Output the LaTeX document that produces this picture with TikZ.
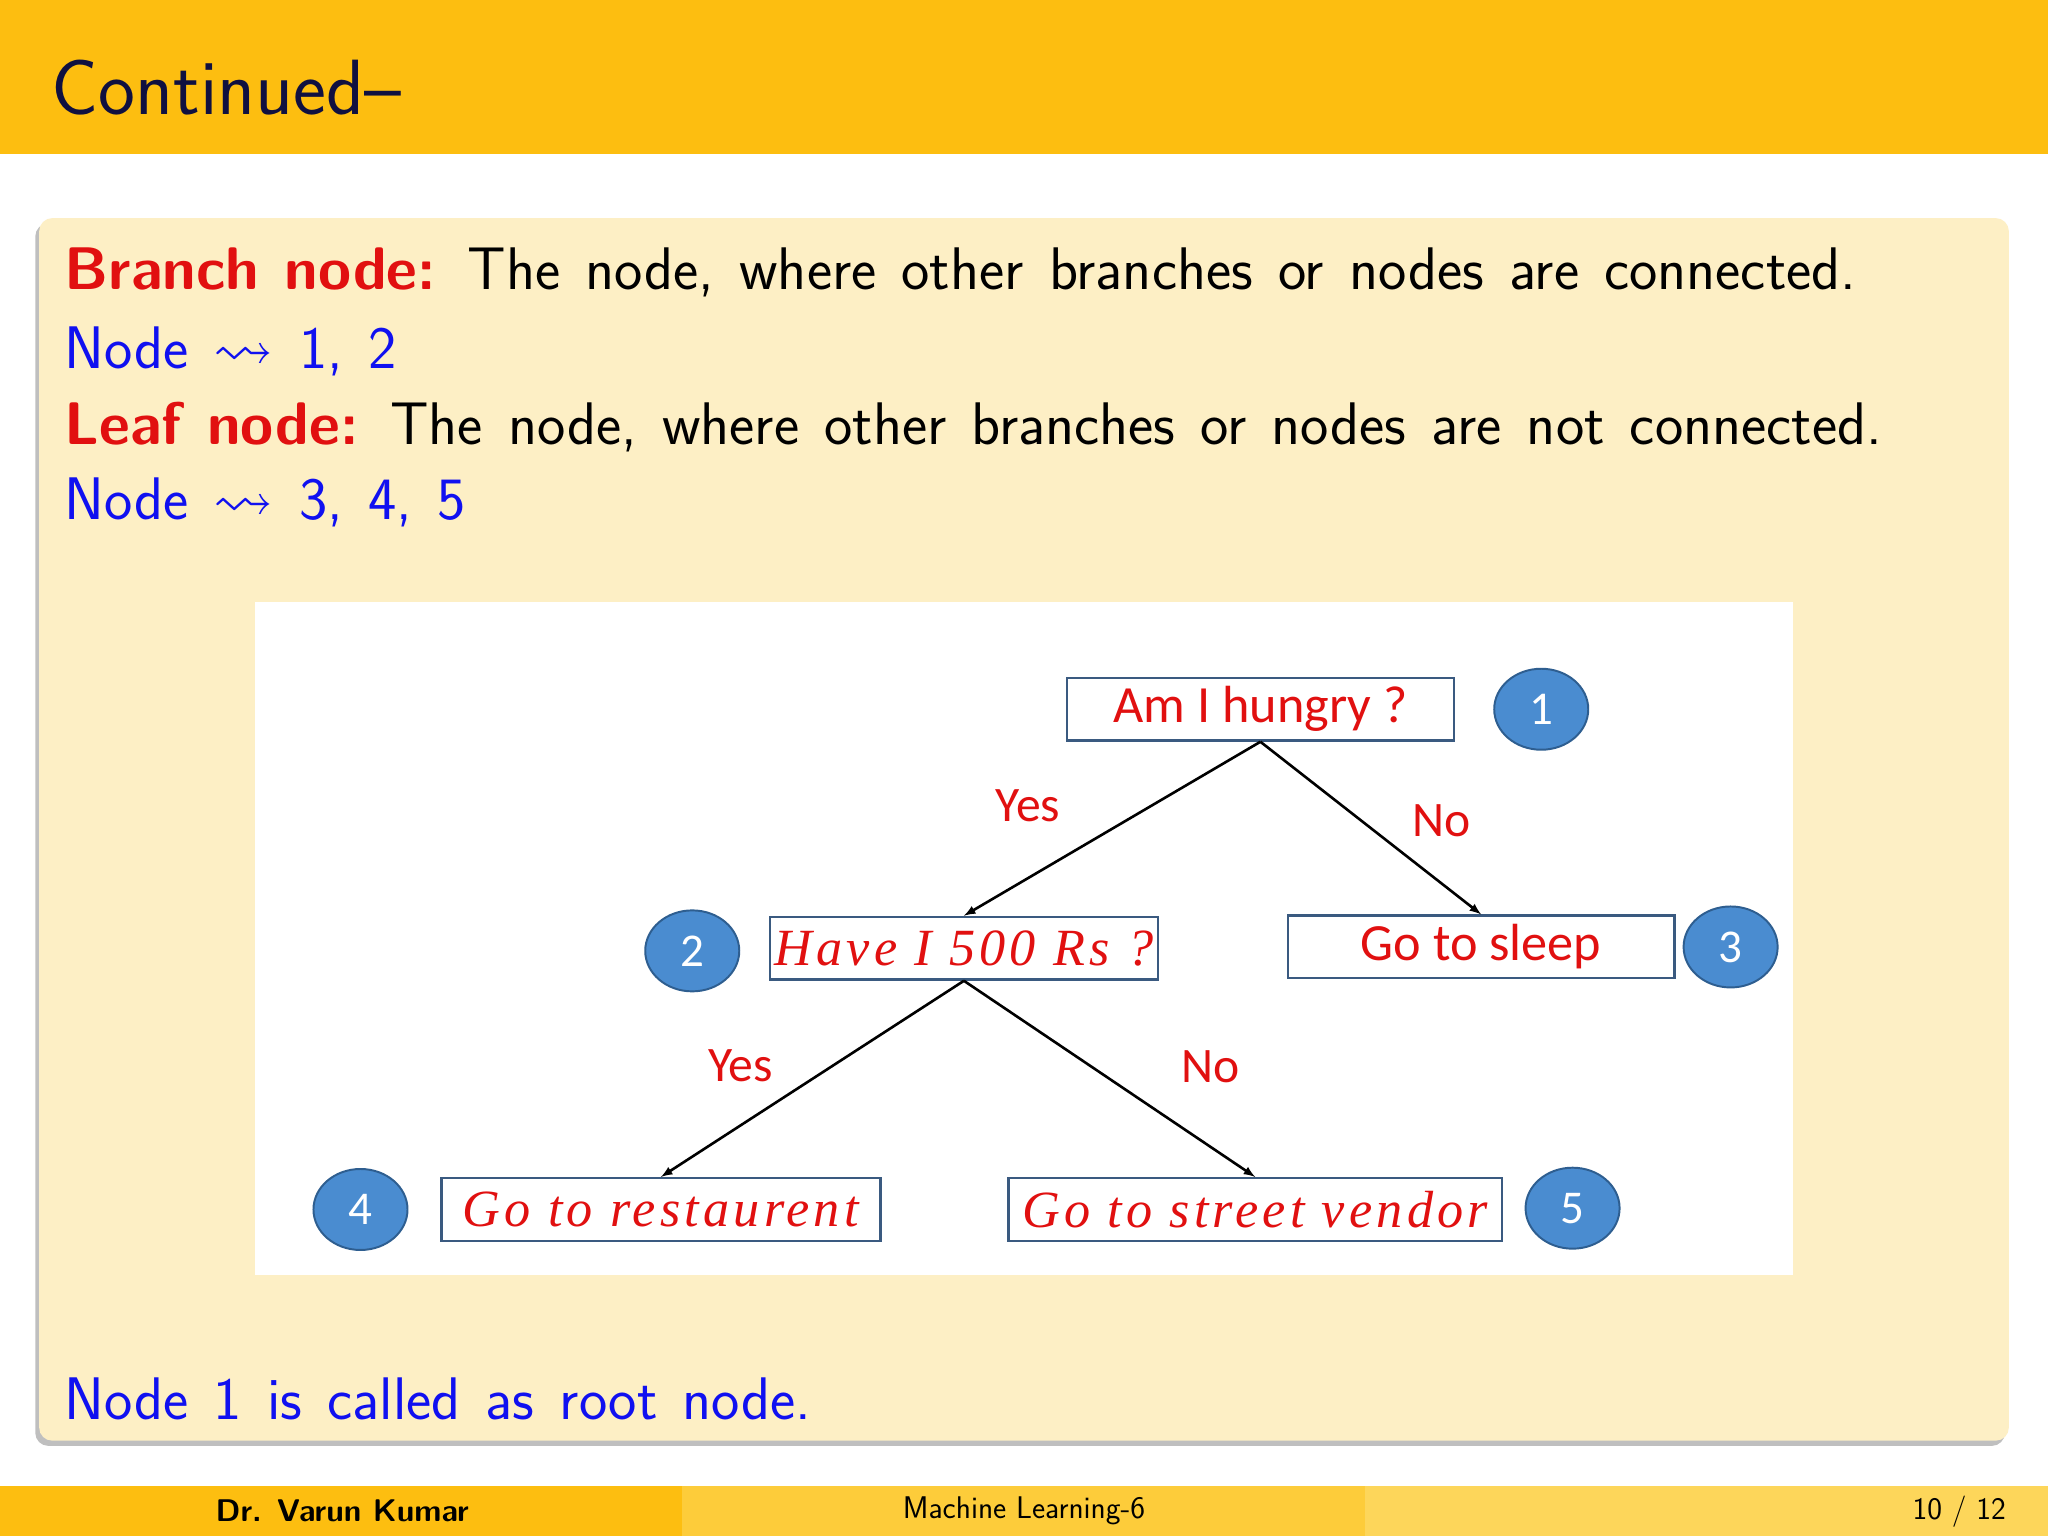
\documentclass[tikz,border=0pt]{standalone}
\usepackage{fontspec}
\newfontfamily\carfont{Carlito}
\newfontfamily\serfont{Liberation Serif}[LetterSpace=8]
\usepackage{amssymb}
\usetikzlibrary{shadows,shapes.geometric}
\newcommand\widesp{\addfontfeatures{LetterSpace=5}\spaceskip=0.42em\relax}
\definecolor{hdr}{HTML}{FDBE10}
\definecolor{blk}{HTML}{FDEFC5}
\definecolor{foot1}{HTML}{FDBE10}
\definecolor{foot2}{HTML}{FDCC3A}
\definecolor{foot3}{HTML}{FDD65A}
\definecolor{bred}{HTML}{E11010}
\definecolor{bblue}{HTML}{1010F0}
\definecolor{circ}{HTML}{4A8CD0}
\definecolor{circb}{HTML}{2E5E90}
\definecolor{boxb}{HTML}{3A5A80}
\definecolor{navy}{HTML}{101040}
\begin{document}
\begin{tikzpicture}[x=1pt,y=-1pt,
  tbox/.style={draw=boxb,line width=1.8pt,fill=white,minimum height=48pt,inner sep=0pt,text=bred,font=\carfont\fontsize{40}{44}\selectfont},
  ibox/.style={tbox,font=\serfont\itshape\fontsize{40}{44}\selectfont},
  num/.style={ellipse,draw=circb,line width=1.5pt,fill=circ,minimum width=72pt,minimum height=62pt,inner sep=0pt,text=white,font=\carfont\fontsize{36}{40}\selectfont},
  lab/.style={text=bred,font=\carfont\fontsize{38}{42}\selectfont},
  arr/.style={-latex,line width=2pt},
  body/.style={anchor=base west,font=\sffamily\fontsize{46}{52}\selectfont\widesp}]
\useasboundingbox (0,0) rectangle (1568,1176);
\fill[white] (0,0) rectangle (1568,1176);
\fill[hdr] (0,0) rectangle (1568,118);
\node[anchor=base west,text=navy,font=\sffamily\fontsize{60}{70}\selectfont] (title) at (36,88) {Continued--};
\node[draw=none,fill=blk,rounded corners=10pt,minimum width=1508pt,minimum height=936pt,drop shadow={shadow xshift=-3pt,shadow yshift=-4pt,opacity=0.5}] (blkr) at (784,635) {};
\node[body] (l1) at (46,222) {\textcolor{bred}{\bfseries Branch node:} The node, where other branches or nodes are connected.};
\node[body,text=bblue] (l2) at (46,282) {Node $\rightsquigarrow$ 1, 2};
\node[body] (l3) at (46,340) {\textcolor{bred}{\bfseries Leaf node:} The node, where other branches or nodes are not connected.};
\node[body,text=bblue] (l4) at (46,398) {Node $\rightsquigarrow$ 3, 4, 5};
\node[body,text=bblue] (l5) at (46,1087) {Node 1 is called as root node.};
\fill[white] (195,461) rectangle (1373,976);
\node[tbox,minimum width=296pt] (a) at (965,543) {Am I hungry ?};
\node[ibox,minimum width=297pt] (b) at (738,726) {Have I 500 Rs ?};
\node[tbox,minimum width=296pt] (c) at (1134,725) {Go to sleep};
\node[ibox,minimum width=336pt] (d) at (506,926) {Go to restaurent};
\node[ibox,minimum width=378pt] (e) at (961,926) {Go to street vendor};
\node[num] (n1) at (1180,543) {1};
\node[num] (n2) at (530,728) {2};
\node[num] (n3) at (1325,725) {3};
\node[num] (n4) at (276,926) {4};
\node[num] (n5) at (1204,925) {5};
\draw[arr] (a.south) -- (b.north);
\draw[arr] (a.south) -- (c.north);
\draw[arr] (b.south) -- (d.north);
\draw[arr] (b.south) -- (e.north);
\node[lab] (y1) at (787,617) {Yes};
\node[lab] (no1) at (1104,628) {No};
\node[lab] (y2) at (567,816) {Yes};
\node[lab] (no2) at (927,817) {No};
\fill[foot1] (0,1138) rectangle (522,1176);
\fill[foot2] (522,1138) rectangle (1045,1176);
\fill[foot3] (1045,1138) rectangle (1568,1176);
\node[font=\sffamily\bfseries\fontsize{24}{28}\selectfont] (f1) at (262,1157) {Dr. Varun Kumar};
\node[font=\sffamily\fontsize{24}{28}\selectfont] (f2) at (784,1157) {Machine Learning-6};
\node[font=\sffamily\fontsize{24}{28}\selectfont] (f3) at (1500,1157) {10 / 12};
\end{tikzpicture}
\end{document}
